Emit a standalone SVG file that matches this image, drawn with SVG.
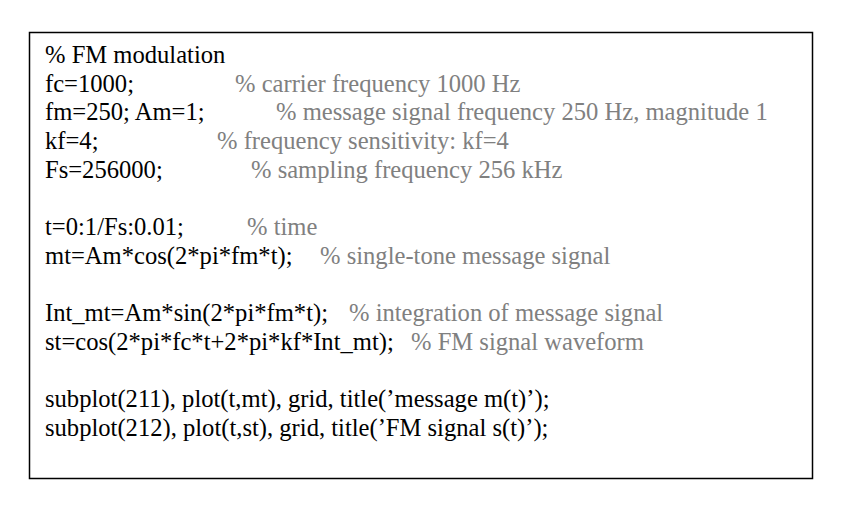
<svg xmlns="http://www.w3.org/2000/svg" width="844" height="514" viewBox="0 0 844 514">
<style>
text{font-family:"Liberation Serif","Times New Roman",serif;font-size:24.6px;fill:#000}
.c{fill:#808080}
</style>
<rect width="844" height="514" fill="#fff"/>
<g id="box"><rect x="29.5" y="32.5" width="783" height="446" fill="none" stroke="#000" stroke-width="1.5"/></g>
<g id="code">
<text x="45" y="63">% FM modulation</text>
<text x="45" y="92">fc=1000;</text><text class="c" x="235" y="92">% carrier frequency 1000 Hz</text>
<text x="45" y="120">fm=250; Am=1;</text><text class="c" x="276" y="120">% message signal frequency 250 Hz, magnitude 1</text>
<text x="45" y="149">kf=4;</text><text class="c" x="217" y="149">% frequency sensitivity: kf=4</text>
<text x="45" y="178">Fs=256000;</text><text class="c" x="251" y="178">% sampling frequency 256 kHz</text>
<text x="45" y="235">t=0:1/Fs:0.01;</text><text class="c" x="247" y="235">% time</text>
<text x="45" y="264">mt=Am*cos(2*pi*fm*t);</text><text class="c" x="320" y="264">% single-tone message signal</text>
<text x="45" y="321">Int_mt=Am*sin(2*pi*fm*t);</text><text class="c" x="349" y="321">% integration of message signal</text>
<text x="45" y="350">st=cos(2*pi*fc*t+2*pi*kf*Int_mt);</text><text class="c" x="411" y="350">% FM signal waveform</text>
<text x="45" y="407">subplot(211), plot(t,mt), grid, title(’message m(t)’);</text>
<text x="45" y="436">subplot(212), plot(t,st), grid, title(’FM signal s(t)’);</text>
</g>
</svg>
